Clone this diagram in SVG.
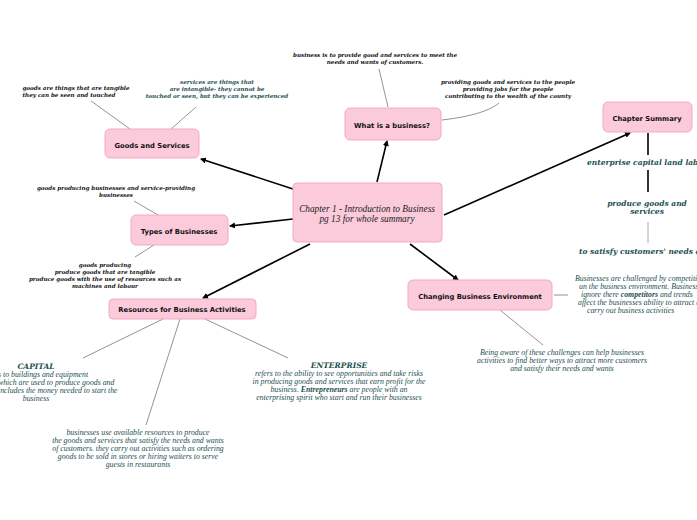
<svg xmlns="http://www.w3.org/2000/svg" width="697" height="520" viewBox="0 0 697 520">
<style>
.n{fill:#fbcadb;stroke:#f5a9c4;stroke-width:1}
.t{font-family:"DejaVu Sans",sans-serif;font-weight:bold;font-size:6.8px;fill:#111;text-anchor:middle}
.c{font-family:"Liberation Serif",serif;font-style:italic;font-size:9.3px;fill:#222;text-anchor:middle}
.b{font-family:"DejaVu Serif",serif;font-style:italic;font-weight:bold;font-size:5.6px;fill:#111;text-anchor:middle}
.g{font-family:"DejaVu Serif",serif;font-style:italic;font-weight:bold;font-size:7.5px;fill:#1d4f4f;text-anchor:middle}
.s{font-family:"DejaVu Serif",serif;font-style:italic;font-weight:bold;font-size:5.6px;fill:#1d4f4f;text-anchor:middle}
.l{font-family:"Liberation Serif",serif;font-style:italic;font-size:7.8px;fill:#1d4f4f;text-anchor:middle}
.m{stroke:#000;stroke-width:1.6;fill:none}
.th{stroke:#777;stroke-width:0.8;fill:none}
</style>
<defs><marker id="a" markerWidth="6" markerHeight="6" refX="5" refY="3" orient="auto" markerUnits="userSpaceOnUse" viewBox="0 0 6 6"><path d="M0,0L6,3L0,6z" fill="#000"/></marker></defs>
<g id="connectors">
<path class="m" d="M293,189L201,159" marker-end="url(#a)"/>
<path class="m" d="M377,182L387,141" marker-end="url(#a)"/>
<path class="m" d="M444,215L630,133" marker-end="url(#a)"/>
<path class="m" d="M293,219L230,226" marker-end="url(#a)"/>
<path class="m" d="M310,244L203,298" marker-end="url(#a)"/>
<path class="m" d="M410,244L458,280" marker-end="url(#a)"/>
<path class="th" d="M130,129L91,101M171,129L196,107M158,215L134,201M154,245L135,257M388,107L379,69M442,120Q485,115 499,103M163,319L83,358M180,319L146,425M205,319L288,358M500,310L543,345M554,295L568,295"/>
<path class="m" d="M648,133V155M648,170V192"/>
<path d="M648,222V243" stroke="#aaa" stroke-width="1"/>
</g>
<g id="central"><rect class="n" x="293" y="183" width="149" height="59" rx="4"/><text class="c" x="367" y="212">Chapter 1 - Introduction to Business</text><text class="c" x="367" y="222">pg 13 for whole summary</text></g>
<g id="goods"><rect class="n" x="105" y="129" width="94" height="29" rx="5"/><text class="t" x="152" y="148">Goods and Services</text>
<text class="b" x="76" y="90">goods are things that are tangible</text><text class="b" x="69" y="97">they can be seen and touched</text>
<text class="s" x="217" y="84">services are things that</text><text class="s" x="217" y="91">are intangible- they cannot be</text><text class="s" x="217" y="98">touched or seen, but they can be experienced</text></g>
<g id="what"><rect class="n" x="345" y="108" width="96" height="32" rx="5"/><text class="t" x="392" y="128">What is a business?</text>
<text class="b" x="375" y="57">business is to provide good and services to meet the</text><text class="b" x="375" y="64">needs and wants of customers.</text>
<text class="b" x="508" y="84">providing goods and services to the people</text><text class="b" x="508" y="91">providing jobs for the people</text><text class="b" x="508" y="98">contributing to the wealth of the county</text></g>
<g id="summary"><rect class="n" x="603" y="102" width="89" height="30" rx="5"/><text class="t" x="647" y="121">Chapter Summary</text>
<text class="g" x="587" y="165" style="text-anchor:start">enterprise  capital  land  labour</text>
<text class="g" x="647" y="206">produce goods and</text><text class="g" x="647" y="214">services</text>
<text class="g" x="579" y="254" style="text-anchor:start">to satisfy customers' needs and wants</text></g>
<g id="types"><rect class="n" x="131" y="215" width="97" height="30" rx="5"/><text class="t" x="179" y="234">Types of Businesses</text>
<text class="b" x="116" y="190">goods producing businesses and service-providing</text><text class="b" x="116" y="197">businesses</text>
<text class="b" x="105" y="267">goods producing</text><text class="b" x="105" y="274">produce goods that are tangible</text><text class="b" x="105" y="281">produce goods with the use of resources such as</text><text class="b" x="105" y="288">machines and labour</text></g>
<g id="resources"><rect class="n" x="109" y="299" width="147" height="20" rx="4"/><text class="t" x="182" y="312">Resources for Business Activities</text>
<text class="g" x="36" y="369">CAPITAL</text>
<text class="l" x="-2" y="377" style="text-anchor:start">s to buildings and equipment</text>
<text class="l" x="-2" y="385" style="text-anchor:start">  which are used to produce goods and</text>
<text class="l" x="-2" y="393" style="text-anchor:start">includes the money needed to start the</text>
<text class="l" x="36" y="401">business</text>
<text class="g" x="339" y="368">ENTERPRISE</text>
<text class="l" x="339" y="376">refers to the ability to see opportunities and take risks</text>
<text class="l" x="339" y="384">in producing goods and services that earn profit for the</text>
<text class="l" x="339" y="392">business. <tspan font-weight="bold">Entrepreneurs</tspan> are people with an</text>
<text class="l" x="339" y="400">enterprising spirit who start and run their businesses</text>
<text class="l" x="138" y="435">businesses use available resources to produce</text>
<text class="l" x="138" y="443">the goods and services that satisfy the needs and wants</text>
<text class="l" x="138" y="451">of customers. they carry out activities such as ordering</text>
<text class="l" x="138" y="459">goods to be sold in stores or hiring waiters to serve</text>
<text class="l" x="138" y="467">guests in restaurants</text></g>
<g id="changing"><rect class="n" x="408" y="280" width="144" height="30" rx="5"/><text class="t" x="480" y="299">Changing Business Environment</text>
<text class="l" x="575" y="281" style="text-anchor:start">Businesses are challenged by competition</text>
<text class="l" x="579" y="289" style="text-anchor:start">un the business environment. Businesses</text>
<text class="l" x="581" y="297" style="text-anchor:start">ignore there <tspan font-weight="bold">competitors</tspan> and trends</text>
<text class="l" x="578" y="305" style="text-anchor:start">affect the businesses ability to attract and</text>
<text class="l" x="587" y="313" style="text-anchor:start">carry out business activities</text>
<text class="l" x="562" y="355">Being aware of these challenges can help businesses</text>
<text class="l" x="562" y="363">activities to find better ways to attract more customers</text>
<text class="l" x="562" y="371">and satisfy their needs and wants</text></g>
</svg>
